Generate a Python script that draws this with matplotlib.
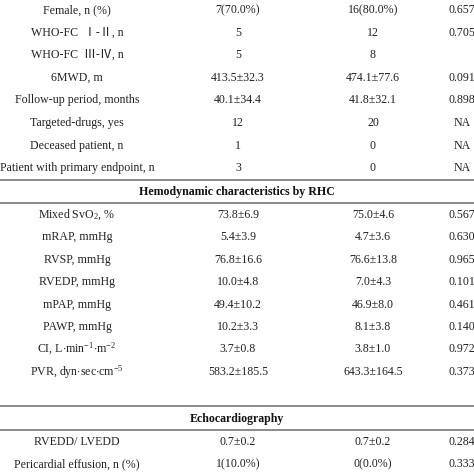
import matplotlib
matplotlib.use("Agg")
import matplotlib.pyplot as plt

plt.rcParams['font.family'] = ['Liberation Serif', 'Noto Sans CJK SC', 'DejaVu Serif']
plt.rcParams['mathtext.fontset'] = 'custom'
plt.rcParams['mathtext.rm'] = 'Liberation Serif'
plt.rcParams['mathtext.it'] = 'Liberation Serif:italic'

labels1 = ["Female, n (%)", "WHO-FC  Ⅰ-Ⅱ, n", "WHO-FC  Ⅲ-Ⅳ, n", "6MWD, m",
           "Follow-up period, months", "Targeted-drugs, yes", "Deceased patient, n",
           "Patient with primary endpoint, n"]
g1_1 = ["7(70.0%)", "5", "5", "413.5±32.3", "40.1±34.4", "12", "1", "3"]
g2_1 = ["16(80.0%)", "12", "8", "474.1±77.6", "41.8±32.1", "20", "0", "0"]
p_1 = ["0.657", "0.705", "", "0.091", "0.898", "NA", "NA", "NA"]

header2 = "Hemodynamic characteristics by RHC"
labels2 = [r"Mixed SvO$_2$, %", "mRAP, mmHg", "RVSP, mmHg", "RVEDP, mmHg", "mPAP, mmHg",
           "PAWP, mmHg", r"CI, L$\cdot$min$^{-1}$$\cdot$m$^{-2}$", r"PVR, dyn$\cdot$sec$\cdot$cm$^{-5}$"]
g1_2 = ["73.8±6.9", "5.4±3.9", "76.8±16.6", "10.0±4.8", "49.4±10.2", "10.2±3.3", "3.7±0.8", "583.2±185.5"]
g2_2 = ["75.0±4.6", "4.7±3.6", "76.6±13.8", "7.0±4.3", "46.9±8.0", "8.1±3.8", "3.8±1.0", "643.3±164.5"]
p_2 = ["0.567", "0.630", "0.965", "0.101", "0.461", "0.140", "0.972", "0.373"]

header3 = "Echocardiography"
labels3 = ["RVEDD/ LVEDD", "Pericardial effusion, n (%)"]
g1_3 = ["0.7±0.2", "1(10.0%)"]
g2_3 = ["0.7±0.2", "0(0.0%)"]
p_3 = ["0.284", "0.333"]

fig = plt.figure(figsize=(4.74, 4.74), dpi=100)
ax = fig.add_axes([0, 0, 1, 1])
ax.set_xlim(0, 474)
ax.set_ylim(474, 0)
ax.axis('off')

fs = 8.6
colx = [77, 238, 373, 462]

def rows(ys, labs, a, b, c):
    for y, l, v1, v2, v3 in zip(ys, labs, a, b, c):
        for x, t in zip(colx, (l, v1, v2, v3)):
            ax.text(x, y, t, ha='center', va='center', fontsize=fs, color='#222222')

ys1 = [10 + i * 22.6 for i in range(8)]
rows(ys1, labels1, g1_1, g2_1, p_1)
ax.text(237, 192, header2, ha='center', va='center', fontsize=fs, fontweight='bold', color='#111111')
ys2 = [215 + i * 22.4 for i in range(8)]
rows(ys2, labels2, g1_2, g2_2, p_2)
ax.text(237, 419, header3, ha='center', va='center', fontsize=fs, fontweight='bold', color='#111111')
ys3 = [442, 464]
rows(ys3, labels3, g1_3, g2_3, p_3)

for y in (179.5, 203, 406, 430):
    ax.plot([0, 474], [y, y], color='#8a8a8a', lw=1.4)

fig.savefig("out.png", dpi=100)
